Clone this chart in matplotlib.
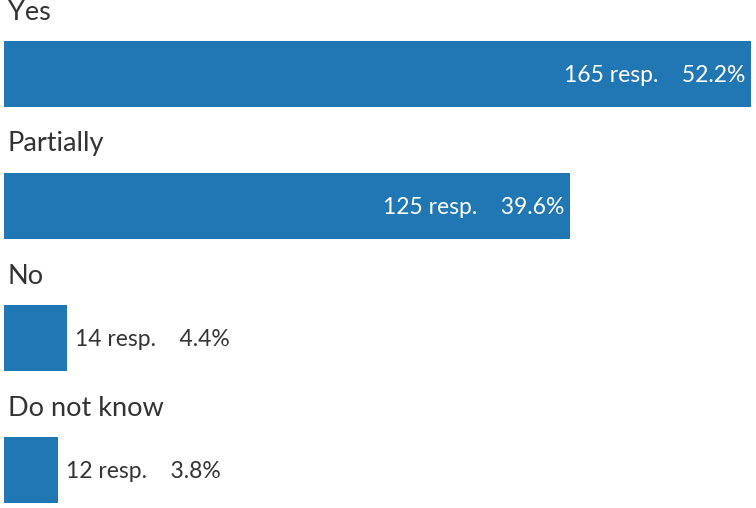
import matplotlib
matplotlib.use("Agg")
import matplotlib.pyplot as plt
from matplotlib.transforms import offset_copy

categories = ["Yes", "Partially", "No", "Do not know"]
responses = [165, 125, 14, 12]
percents = ["52.2%", "39.6%", "4.4%", "3.8%"]

W, H = 756, 508
fig = plt.figure(figsize=(W / 100, H / 100), dpi=100)
ax = fig.add_axes([4 / W, 0, 747 / W, 1])
ax.set_xlim(0, max(responses))
slot = 132.0
ax.set_ylim((H - 74) / slot, -74 / slot)
ax.axis("off")

color = "#2077b4"
font = ["Lato", "DejaVu Sans"]
for i, (cat, r, p) in enumerate(zip(categories, responses, percents)):
    ax.barh(i, r, height=66 / slot, color=color, left=0)
    ax.text(0, i - 62 / slot, cat, transform=offset_copy(ax.transData, fig=fig, x=4, y=0, units="dots"),
            ha="left", va="center", fontsize=19.5, color="#333333", family=font)
    label = f"{r} resp.    {p}"
    if r > 60:
        ax.text(r, i, label, transform=offset_copy(ax.transData, fig=fig, x=-6, y=-2, units="dots"),
                ha="right", va="center", fontsize=16.5, color="white", family=font)
    else:
        ax.text(r, i, label, transform=offset_copy(ax.transData, fig=fig, x=8, y=-2, units="dots"),
                ha="left", va="center", fontsize=16.5, color="#333333", family=font)

fig.savefig("out.png", dpi=100)
